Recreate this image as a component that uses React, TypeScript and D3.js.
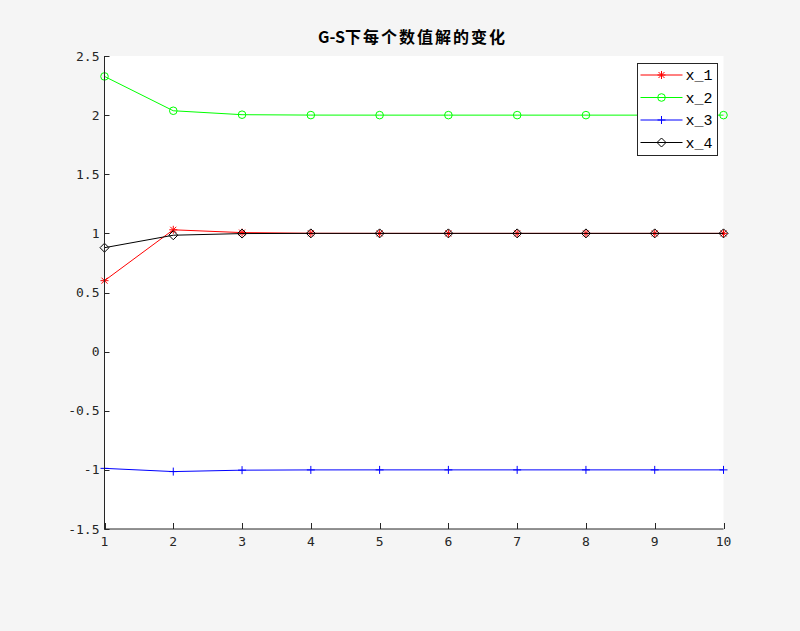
import React from "react";
import * as d3 from "d3";

const iterations = [1, 2, 3, 4, 5, 6, 7, 8, 9, 10];
const x1Values = [0.6, 1.0302, 1.0066, 1.0009, 1.0001, 1.0, 1.0, 1.0, 1.0, 1.0];
const x2Values = [2.3273, 2.0369, 2.0036, 2.0003, 2.0, 2.0, 2.0, 2.0, 2.0, 2.0];
const x3Values = [-0.9873, -1.0145, -1.0025, -1.0003, -1.0, -1.0, -1.0, -1.0, -1.0, -1.0];
const x4Values = [0.8789, 0.9843, 0.9984, 0.9999, 1.0, 1.0, 1.0, 1.0, 1.0, 1.0];
const yTicks = [-1.5, -1, -0.5, 0, 0.5, 1, 1.5, 2, 2.5];
const xTicks = [1, 2, 3, 4, 5, 6, 7, 8, 9, 10];
const seriesNames = ["x_1", "x_2", "x_3", "x_4"];
const titleLatin = "G-S";
const titleCJK = "下每个数值解的变化";

type MarkerKind = "star" | "circle" | "plus" | "diamond";

const series = [
  { name: seriesNames[0], values: x1Values, color: "#ff0000", marker: "star" as MarkerKind },
  { name: seriesNames[1], values: x2Values, color: "#00ff00", marker: "circle" as MarkerKind },
  { name: seriesNames[2], values: x3Values, color: "#0000ff", marker: "plus" as MarkerKind },
  { name: seriesNames[3], values: x4Values, color: "#000000", marker: "diamond" as MarkerKind },
];

function Marker({ kind, x, y, color }: { kind: MarkerKind; x: number; y: number; color: string }) {
  const s = 4;
  if (kind === "star") {
    return (
      <g stroke={color} strokeWidth={1} fill="none">
        <line x1={x - s} y1={y} x2={x + s} y2={y} />
        <line x1={x} y1={y - s} x2={x} y2={y + s} />
        <line x1={x - 3} y1={y - 3} x2={x + 3} y2={y + 3} />
        <line x1={x - 3} y1={y + 3} x2={x + 3} y2={y - 3} />
      </g>
    );
  }
  if (kind === "plus") {
    return (
      <g stroke={color} strokeWidth={1} fill="none">
        <line x1={x - s} y1={y} x2={x + s} y2={y} />
        <line x1={x} y1={y - s} x2={x} y2={y + s} />
      </g>
    );
  }
  if (kind === "circle") {
    return <circle cx={x} cy={y} r={3.8} stroke={color} strokeWidth={1} fill="none" />;
  }
  return (
    <path
      d={`M${x},${y - 4.5}L${x + 4.5},${y}L${x},${y + 4.5}L${x - 4.5},${y}Z`}
      stroke={color}
      strokeWidth={1}
      fill="none"
    />
  );
}

export default function App() {
  const width = 800;
  const height = 631;
  const left = 104.5;
  const right = 723.5;
  const top = 56;
  const bottom = 529;

  const x = d3.scaleLinear().domain([1, 10]).range([left, right]);
  const y = d3.scaleLinear().domain([-1.5, 2.5]).range([bottom, top]);
  const line = d3
    .line<number>()
    .x((_, i) => x(iterations[i]))
    .y((d) => y(d));

  const tickFont = "'DejaVu Sans Mono', monospace";
  const legendX = 637.5;
  const legendY = 63.5;
  const legendW = 80;
  const legendH = 92;
  const rowH = 22.5;

  return (
    <svg
      width={width}
      height={height}
      style={{ position: "absolute", left: 0, top: 0, display: "block" }}
    >
      <rect x={0} y={0} width={width} height={height} fill="#f5f5f5" />
      <rect x={left} y={top} width={right - left} height={bottom - top} fill="#ffffff" />

      {series.map((s) => (
        <g key={s.name}>
          <path d={line(s.values) || ""} fill="none" stroke={s.color} strokeWidth={1} />
          {s.values.map((v, i) => (
            <Marker key={i} kind={s.marker} x={x(iterations[i])} y={y(v)} color={s.color} />
          ))}
        </g>
      ))}

      {/* axes */}
      <g stroke="#262626" strokeWidth={1} fill="none">
        <line x1={left} y1={top} x2={left} y2={bottom + 0.5} />
        <line x1={left} y1={bottom} x2={right} y2={bottom} />
        {yTicks.map((t) => (
          <line key={t} x1={left} y1={Math.round(y(t)) + 0.5} x2={left + 5} y2={Math.round(y(t)) + 0.5} />
        ))}
        {xTicks.map((t) => (
          <line key={t} x1={Math.round(x(t)) + 0.5} y1={bottom} x2={Math.round(x(t)) + 0.5} y2={bottom - 6} />
        ))}
      </g>
      <g fill="#262626" fontFamily={tickFont} fontSize={13}>
        {yTicks.map((t) => (
          <text key={t} x={left - 5} y={y(t)} dy="0.35em" textAnchor="end">
            {String(t)}
          </text>
        ))}
        {xTicks.map((t) => (
          <text key={t} x={x(t)} y={bottom + 17} textAnchor="middle">
            {String(t)}
          </text>
        ))}
      </g>

      {/* title */}
      <text
        x={318}
        y={43}
        fontSize={16}
        fill="#000"
        fontFamily="'Noto Sans CJK SC', 'DejaVu Sans', sans-serif"
        fontWeight="bold"
      >
        <tspan>{titleLatin}</tspan>
        <tspan letterSpacing={2}>{titleCJK}</tspan>
      </text>

      {/* legend */}
      <rect x={legendX} y={legendY} width={legendW} height={legendH} fill="#ffffff" stroke="#262626" strokeWidth={1} />
      {series.map((s, i) => {
        const cy = legendY + 11.5 + i * rowH;
        return (
          <g key={s.name}>
            <line x1={legendX + 3} y1={cy} x2={legendX + 45} y2={cy} stroke={s.color} strokeWidth={1} />
            <Marker kind={s.marker} x={legendX + 24} y={cy} color={s.color} />
            <text
              x={legendX + 48}
              y={cy}
              dy="0.35em"
              fontSize={15}
              fontFamily="'Liberation Mono', monospace"
              fill="#000"
            >
              {s.name}
            </text>
          </g>
        );
      })}
    </svg>
  );
}
